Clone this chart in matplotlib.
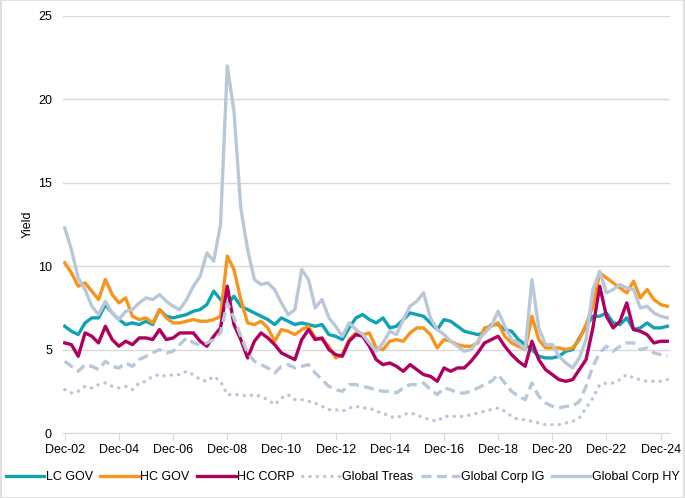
import matplotlib

matplotlib.use("Agg")
import matplotlib.pyplot as plt
import pandas as pd
from matplotlib.patches import Rectangle

# ---- quarterly yields, Dec-02 .. Mar-25 ----
dates = pd.date_range("2002-12-01", periods=90, freq="3MS")

lc_gov = [
    6.4, 6.1, 5.9, 6.6, 6.9, 6.9, 7.7, 7.2, 6.8, 6.5, 6.6, 6.5, 6.7, 6.5, 7.4, 7.0, 6.9,
    7.0, 7.1, 7.3, 7.4, 7.7, 8.5, 8.0, 7.7, 8.2, 7.6, 7.4, 7.2, 7.0, 6.8, 6.5, 6.9, 6.7, 6.5, 6.6,
    6.5, 6.4, 6.5, 5.9, 5.8, 5.6, 6.3, 6.9, 7.1, 6.8, 6.6, 6.9, 6.3, 6.4, 6.8, 7.2, 7.1,
    7.0, 6.6, 6.2, 6.8, 6.7, 6.4, 6.1, 6.0, 5.9, 6.0, 6.5, 6.5, 6.2, 6.1, 5.6, 5.3, 5.0, 4.6, 4.5,
    4.5, 4.6, 4.9, 5.0, 5.7, 6.4, 7.0, 7.0, 7.2, 6.6, 6.5, 6.9, 6.2, 6.3, 6.6, 6.3, 6.3, 6.4,
]
hc_gov = [
    10.2, 9.6, 8.8, 9.0, 8.5, 8.0, 9.2, 8.3, 7.8, 8.1, 7.0, 6.8, 6.9, 6.6, 7.4, 6.9, 6.6,
    6.6, 6.7, 6.8, 6.7, 6.7, 6.8, 7.0, 10.6, 9.8, 8.0, 6.6, 6.5, 6.7, 6.3, 5.5, 6.2, 6.1, 5.9, 6.2,
    6.4, 5.7, 5.6, 5.2, 4.5, 4.7, 5.6, 6.0, 5.9, 6.0, 5.1, 5.0, 5.5, 5.6, 5.5, 6.0, 6.3,
    6.3, 5.9, 5.1, 5.6, 5.5, 5.3, 5.2, 5.2, 5.4, 6.3, 6.4, 6.6, 5.8, 5.4, 5.2, 5.0, 7.0, 5.6, 5.1,
    5.1, 5.1, 5.0, 5.1, 5.6, 6.5, 7.6, 9.6, 9.3, 9.0, 8.7, 8.4, 9.1, 8.1, 8.6, 8.0, 7.7, 7.6,
]
hc_corp = [
    5.4, 5.3, 4.6, 6.0, 5.8, 5.4, 6.4, 5.6, 5.2, 5.5, 5.3, 5.7, 5.7, 5.6, 6.2, 5.6, 5.7,
    6.0, 6.0, 6.0, 5.5, 5.2, 5.8, 6.3, 8.8, 6.5, 5.6, 4.5, 5.5, 6.0, 5.7, 5.3, 4.8, 4.6, 4.4, 5.6,
    6.2, 5.6, 5.7, 5.0, 4.7, 4.6, 5.5, 5.9, 5.8, 5.2, 4.4, 4.1, 4.2, 4.0, 3.7, 4.1, 3.8,
    3.5, 3.4, 3.1, 3.9, 3.7, 3.9, 3.9, 4.3, 4.8, 5.4, 5.6, 5.8, 5.2, 4.7, 4.3, 4.0, 5.5, 4.4, 3.8,
    3.5, 3.2, 3.1, 3.2, 3.8, 4.4, 6.3, 8.8, 7.0, 6.3, 6.7, 7.8, 6.2, 6.1, 5.9, 5.4, 5.5, 5.5,
]
global_treas = [
    2.6, 2.4, 2.5, 2.8, 2.7, 2.9, 3.0, 2.8, 2.7, 2.8, 2.6, 3.0, 3.1, 3.4, 3.5, 3.4, 3.5,
    3.5, 3.7, 3.5, 3.2, 3.1, 3.4, 3.1, 2.3, 2.3, 2.3, 2.2, 2.3, 2.2, 2.0, 1.7, 2.1, 2.3, 2.0, 2.0,
    1.9, 1.8, 1.6, 1.4, 1.4, 1.3, 1.5, 1.6, 1.5, 1.5, 1.3, 1.2, 1.0, 0.9, 1.1, 1.2, 1.1,
    0.9, 0.8, 0.7, 1.0, 1.0, 1.0, 1.0, 1.1, 1.2, 1.3, 1.4, 1.5, 1.3, 1.0, 0.8, 0.8, 0.7, 0.6, 0.5,
    0.5, 0.5, 0.6, 0.7, 0.9, 1.5, 2.1, 2.9, 3.0, 3.0, 3.2, 3.5, 3.3, 3.2, 3.1, 3.1, 3.1, 3.2,
]
global_ig = [
    4.3, 4.0, 3.7, 4.1, 4.0, 3.8, 4.3, 4.0, 3.9, 4.2, 4.0, 4.4, 4.6, 4.8, 5.0, 4.8, 4.9,
    5.3, 5.7, 5.4, 5.3, 5.4, 5.6, 6.0, 7.8, 6.9, 5.8, 4.8, 4.3, 4.1, 3.9, 3.6, 4.0, 4.1, 3.9, 4.0,
    4.1, 3.6, 3.2, 2.8, 2.6, 2.5, 2.9, 2.9, 2.8, 2.7, 2.6, 2.5, 2.5, 2.4, 2.7, 2.9, 2.9,
    3.0, 2.6, 2.3, 2.7, 2.6, 2.4, 2.4, 2.5, 2.7, 2.9, 3.1, 3.5, 3.0, 2.5, 2.2, 2.0, 3.0, 2.2, 1.8,
    1.6, 1.5, 1.6, 1.6, 1.9, 2.8, 4.0, 4.8, 5.2, 4.9, 5.2, 5.4, 5.4, 5.0, 5.1, 4.8, 4.7, 4.6,
]
global_hy = [
    12.3, 11.0, 9.3, 8.6, 7.6, 7.1, 7.9, 7.2, 6.8, 7.3, 7.4, 7.8, 8.1, 8.0, 8.3, 7.9, 7.6,
    7.4, 8.0, 8.8, 9.4, 10.8, 10.3, 12.5, 22.0, 19.3, 13.5, 11.0, 9.2, 8.9, 9.0, 8.6, 7.8, 7.1, 7.4, 9.8,
    9.2, 7.5, 8.0, 6.9, 6.4, 5.8, 6.6, 6.2, 5.9, 5.4, 4.9, 5.4, 6.1, 5.9, 6.8, 7.6, 7.9,
    8.4, 6.9, 6.2, 5.9, 5.5, 5.2, 4.9, 5.0, 5.5, 6.0, 6.4, 7.3, 6.4, 5.6, 5.4, 5.0, 9.2, 6.3, 5.3,
    5.3, 4.6, 4.2, 3.9, 4.5, 5.6, 8.6, 9.7, 8.4, 8.6, 8.9, 8.7, 8.6, 7.5, 7.6, 7.2, 7.0, 6.9,
]

tick_dates = pd.date_range("2002-12-01", "2024-12-01", freq="24MS")
tick_labels = [d.strftime("Dec-%y") for d in tick_dates]

plt.rcParams["font.family"] = ["Liberation Sans", "DejaVu Sans"]
plt.rcParams["font.size"] = 9

GREY = "#b8c8d8"
LW = 2.4

fig = plt.figure(figsize=(6.85, 4.98), dpi=100)
ax = fig.add_axes([0.092, 0.1305, 0.886, 0.8375])

ax.plot(dates, lc_gov, color="#0fa3b4", lw=LW, label="LC GOV")
ax.plot(dates, hc_gov, color="#f7941d", lw=LW, label="HC GOV")
ax.plot(dates, hc_corp, color="#b0005f", lw=LW, label="HC CORP")
ax.plot(dates, global_treas, color=GREY, lw=LW, ls=(0, (0.1, 2.1)), dash_capstyle="round",
        label="Global Treas")
ax.plot(dates, global_ig, color=GREY, lw=LW, ls=(0, (3, 1.6)), label="Global Corp IG")
ax.plot(dates, global_hy, color=GREY, lw=LW, label="Global Corp HY")

ax.set_ylim(0, 25)
ax.set_yticks([0, 5, 10, 15, 20, 25])
ax.set_xlim(pd.Timestamp("2002-11-08"), pd.Timestamp("2025-04-05"))
ax.set_xticks(tick_dates)
ax.set_xticklabels(tick_labels)
ax.grid(axis="y", color="#d9d9d9", lw=1)
ax.set_axisbelow(True)
for s in ["top", "right", "left"]:
    ax.spines[s].set_visible(False)
ax.spines["bottom"].set_color("#d9d9d9")
ax.tick_params(axis="x", length=5, color="#d9d9d9", pad=3)
ax.tick_params(axis="y", length=0, pad=8)
ax.set_ylabel("Yield", labelpad=3)

fig.legend(loc="lower center", bbox_to_anchor=(0.5, 0.02), ncol=6, frameon=False,
           handlelength=3.1, handletextpad=0.1, columnspacing=0.6, borderaxespad=0)

fig.patches.append(Rectangle((0.001, 0.001), 0.998, 0.998, transform=fig.transFigure,
                             fill=False, edgecolor="#d9d9d9", lw=1.2))

fig.savefig("out.png", dpi=100)
